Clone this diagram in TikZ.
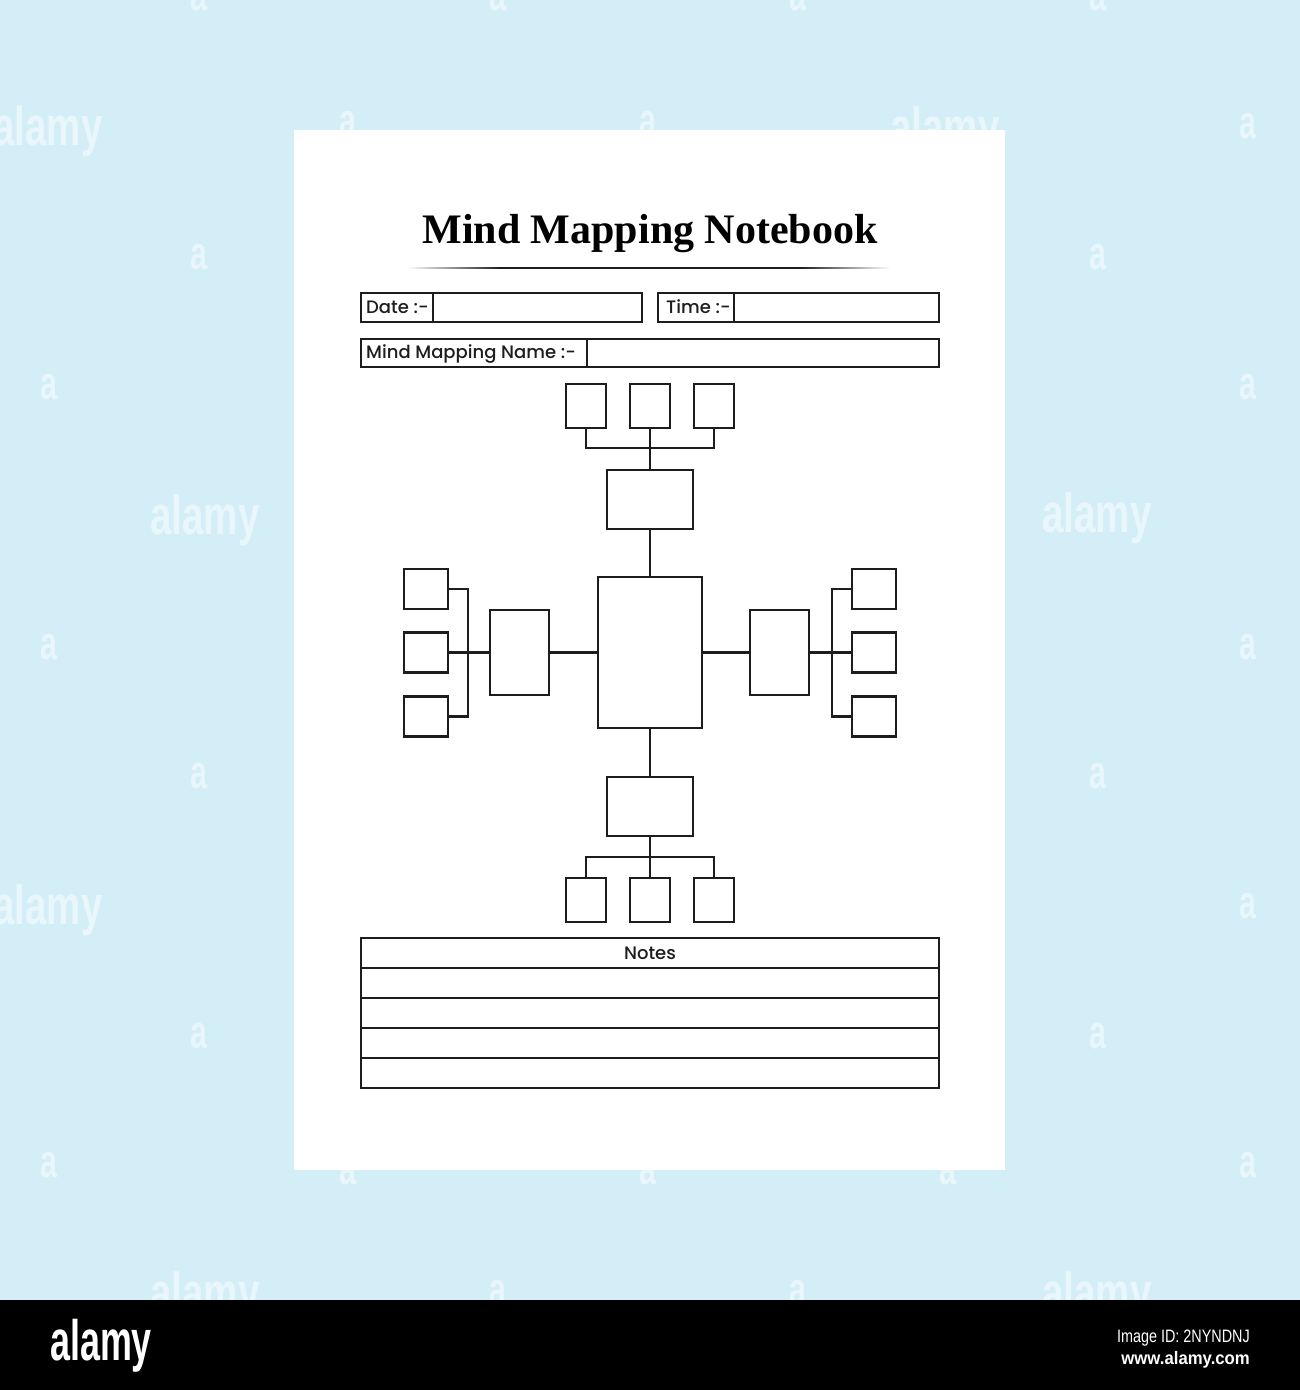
\documentclass[tikz,border=0pt]{standalone}
\usepackage{fontspec}
\setmainfont{Liberation Serif}
\newfontfamily\formfont{Poppins Medium}
\newfontfamily\markfont{Liberation Sans}

\definecolor{bgblue}{RGB}{212,238,248}
\definecolor{ink}{RGB}{30,28,29}

\tikzset{
  box/.style={draw=ink,line width=2.3pt,inner sep=0pt,outer sep=0pt,fill=white},
  hub/.style={box,minimum width=104pt,minimum height=151pt},
  vbranch/.style={box,minimum width=86pt,minimum height=59pt},
  hbranch/.style={box,minimum width=59pt,minimum height=85pt},
  vleaf/.style={box,minimum width=40pt,minimum height=44pt},
  hleaf/.style={box,minimum width=44pt,minimum height=40pt},
  link/.style={draw=ink,line width=2.3pt},
  formline/.style={draw=ink,line width=2.3pt},
  field/.style={font=\formfont\fontsize{18}{18}\selectfont,text=ink,inner sep=0pt,anchor=base west},
  wbig/.style={text=white,opacity=.5,inner sep=0pt,xscale=.7,font=\markfont\bfseries\fontsize{55}{55}\selectfont},
  wsmall/.style={text=white,opacity=.5,inner sep=0pt,xscale=.65,font=\markfont\bfseries\fontsize{47}{47}\selectfont}
}

\begin{document}
\begin{tikzpicture}[x=1pt,y=-1pt]
\useasboundingbox (0,0) rectangle (1300,1390);
\fill[bgblue] (0,0) rectangle (1300,1390);

% watermarks
\foreach \x/\y in {48/131,945/132,205/520,1097/518,48/910,945/910,205/1297,1097/1297}
  \node[wbig] at (\x,\y) {alamy};
\foreach \x/\y in {199/-2,498/-2,798/-2,1098/-2,348/124,648/124,1248/126,199/257,1098/257,
  49/387,1248/387,49/647,1248/647,199/776,1098/776,1248/906,199/1036,1098/1036,
  49/1165,1248/1165,348/1172,648/1172,948/1172,498/1293,798/1293}
  \node[wsmall] at (\x,\y) {a};

% page
\fill[white] (294,130) rectangle (1005,1170);

\node[font=\bfseries\fontsize{42}{42}\selectfont,inner sep=0pt,anchor=base] (title) at (650,243) {Mind Mapping Notebook};
\shade[left color=white,right color=ink] (407,267) rectangle (500,268.5);
\fill[ink] (500,267) rectangle (800,268.5);
\shade[left color=ink,right color=white] (800,267) rectangle (890,268.5);

% form fields
\draw[formline] (361,293) rectangle (642,322) (433,293) -- (433,322);
\node[field] (date) at (366,313) {Date :-};
\draw[formline] (658,293) rectangle (939,322) (734,293) -- (734,322);
\node[field] (time) at (666,313) {Time :-};
\draw[formline] (361,339) rectangle (939,367) (587,339) -- (587,367);
\node[field] (name) at (366,358) {Mind Mapping Name :-};

% mind map
\node[hub] (hub) at (650,652.5) {};
\node[vbranch] (ntop) at (650,499.5) {};
\node[vbranch] (nbot) at (650,806.5) {};
\node[hbranch] (nleft) at (519.5,652.5) {};
\node[hbranch] (nright) at (779.5,652.5) {};

\node[vleaf] (t1) at (586,406) {};
\node[vleaf] (t2) at (650,406) {};
\node[vleaf] (t3) at (714,406) {};
\node[vleaf] (b1) at (586,900) {};
\node[vleaf] (b2) at (650,900) {};
\node[vleaf] (b3) at (714,900) {};
\node[hleaf] (l1) at (426,589) {};
\node[hleaf] (l2) at (426,652.5) {};
\node[hleaf] (l3) at (426,716.5) {};
\node[hleaf] (r1) at (874,589) {};
\node[hleaf] (r2) at (874,652.5) {};
\node[hleaf] (r3) at (874,716.5) {};

\coordinate (tj) at (650,448);
\coordinate (bj) at (650,857);
\coordinate (lj) at (468,652.5);
\coordinate (rj) at (832,652.5);

\draw[link] (hub.north) -- (ntop.south);
\draw[link] (hub.south) -- (nbot.north);
\draw[link] (hub.west) -- (nleft.east);
\draw[link] (hub.east) -- (nright.west);

\draw[link] (t1.south) -- (t1.south |- tj) -| (t3.south);
\draw[link] (t2.south) -- (ntop.north);
\draw[link] (b1.north) -- (b1.north |- bj) -| (b3.north);
\draw[link] (b2.north) -- (nbot.south);
\draw[link] (l1.east) -- (l1.east -| lj) |- (l3.east);
\draw[link] (l2.east) -- (nleft.west);
\draw[link] (r1.west) -- (r1.west -| rj) |- (r3.west);
\draw[link] (r2.west) -- (nright.east);

% notes
\draw[formline] (361,938) rectangle (939,1088);
\foreach \y in {968,998,1028,1058}
  \draw[formline] (361,\y) -- (939,\y);
\node[field,anchor=base] (notes) at (650,959) {Notes};

% footer band
\fill[black] (0,1300) rectangle (1300,1390);
\node[text=white,inner sep=0pt,anchor=base west,xscale=.63,font=\markfont\bfseries\fontsize{57}{57}\selectfont] (logo) at (50,1360) {alamy};
\node[text=white,inner sep=0pt,anchor=base east,xscale=.8,font=\markfont\fontsize{18}{18}\selectfont] (imgid) at (1250,1342) {Image ID: 2NYNDNJ};
\node[text=white,inner sep=0pt,anchor=base east,xscale=.93,font=\markfont\bfseries\fontsize{18}{18}\selectfont] (site) at (1250,1364) {www.alamy.com};
\end{tikzpicture}
\end{document}
